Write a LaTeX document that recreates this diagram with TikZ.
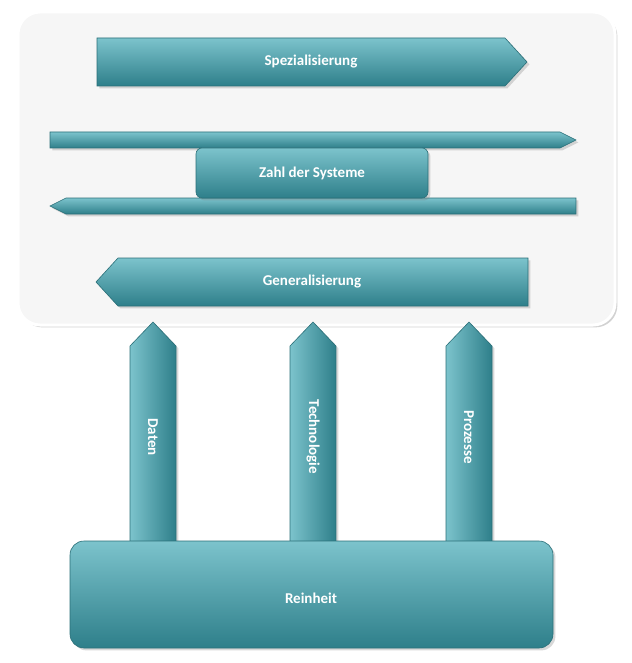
\documentclass[tikz,border=0pt]{standalone}
\usepackage{fontspec}
\setmainfont{Carlito}
\usetikzlibrary{shadows}
\definecolor{tealT}{HTML}{7CC3CC}
\definecolor{tealB}{HTML}{2E7F8A}
\definecolor{tealE}{HTML}{2A6F78}
\begin{document}
\begin{tikzpicture}[x=1pt,y=-1pt,
  teal/.style={top color=tealT,bottom color=tealB,draw=tealE,line width=0.6pt,drop shadow={opacity=0.3}},
  tealv/.style={left color=tealT,right color=tealB,draw=tealE,line width=0.6pt,drop shadow={opacity=0.3}},
  lbl/.style={text=white,font=\bfseries\fontsize{15}{18}\selectfont}]
\useasboundingbox (0,0) rectangle (631,663);
\fill[white] (0,0) rectangle (631,663);
\draw[white,line width=3pt,fill=gray!7,rounded corners=22pt,drop shadow={opacity=0.35}] (18,12) rectangle (615,325);
% Spezialisierung
\path[teal] (97,38) -- (505,38) -- (527,62) -- (505,86) -- (97,86) -- cycle;
\node[lbl] (spez) at (311,62) {Spezialisierung};
% thin arrows
\path[teal] (50,132) -- (560,132) -- (576,140) -- (560,148) -- (50,148) -- cycle;
\path[teal] (66,198) -- (576,198) -- (576,214) -- (66,214) -- (50,206) -- cycle;
\path[teal,rounded corners=6pt] (196,148) rectangle (428,198);
\node[lbl] (zahl) at (312,173) {Zahl der Systeme};
% Generalisierung
\path[teal] (118,258) -- (528,258) -- (528,306) -- (118,306) -- (96,282) -- cycle;
\node[lbl] (gen) at (312,282) {Generalisierung};
% vertical arrows
\foreach \x/\t/\n in {130/Daten/d,290/Technologie/t,446/Prozesse/p}{
  \path[tealv] (\x,548) -- (\x,346) -- ({\x+23},322) -- ({\x+46},346) -- ({\x+46},548) -- cycle;
  \node[lbl,rotate=-90] (\n) at ({\x+23},437) {\t};
}
% Reinheit
\path[teal,rounded corners=14pt] (70,541) rectangle (553,648);
\node[lbl] (rein) at (311,598) {Reinheit};
\end{tikzpicture}
\end{document}
